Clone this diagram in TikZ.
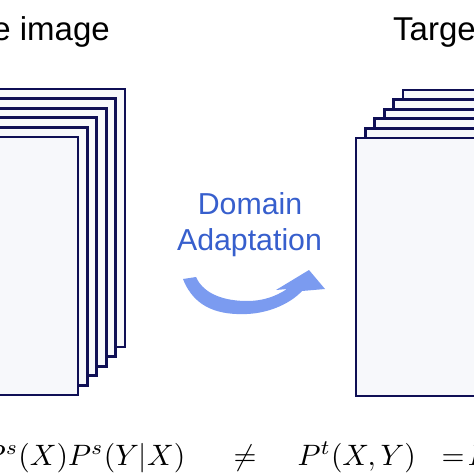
\documentclass[tikz,border=0pt]{standalone}
\usepackage{fontspec}
\setmainfont{Liberation Sans}
\definecolor{edge}{RGB}{15,15,85}
\definecolor{paper}{RGB}{247,248,251}
\definecolor{datext}{RGB}{55,95,205}
\definecolor{arrowfill}{RGB}{123,155,240}
\begin{document}
\begin{tikzpicture}[x=1pt,y=-1pt,
  card/.style={draw=edge,fill=paper,line width=2.8pt},
  title/.style={inner sep=0pt,font=\fontsize{33}{40}\selectfont},
  dalabel/.style={inner sep=0pt,anchor=base,text=datext,font=\fontsize{30.3}{36}\selectfont},
  formula/.style={inner sep=0pt,scale=2.95}]
\useasboundingbox (0,0) rectangle (474,474);
\clip (0,0) rectangle (474,474);
% source stack
\foreach \i in {5,4,3,2,1,0}{
  \draw[card] ({-150+9.4*\i},{137-9.6*\i}) rectangle ({78+9.4*\i},{395-9.6*\i});
}
% target stack
\foreach \i in {5,4,3,2,1,0}{
  \draw[card] ({356+9.4*\i},{138-9.6*\i}) rectangle ({620+9.4*\i},{396-9.6*\i});
}
% titles
\node[title,anchor=base east] (src) at (110,40) {Source image};
\node[title,anchor=base west] (tgt) at (393,40) {Target image};
% domain adaptation label
\node[dalabel] (da1) at (250,214) {Domain};
\node[dalabel] (da2) at (249.5,250) {Adaptation};
% curved arrow
\fill[arrowfill] (183,279)
  .. controls (195,310) and (222,315) .. (247,314)
  .. controls (270,313) and (291,303) .. (302,291)
  -- (325,289) -- (309,270) -- (276,290) -- (287,289)
  .. controls (275,297) and (262,301) .. (247,301)
  .. controls (226,301) and (204,295) .. (196,277) -- cycle;
% formula
\node[formula,anchor=base east] (lhs) at (186,465) {$P^s(X,Y) = P^s(X)P^s(Y|X)$};
\node[formula,anchor=base] (neq) at (245,465) {$\neq$};
\node[formula,anchor=base west] (rhs) at (297,465) {$P^t(X,Y)\hspace{6pt}=\!P^t(X)P^t(Y|X)$};
\end{tikzpicture}
\end{document}
